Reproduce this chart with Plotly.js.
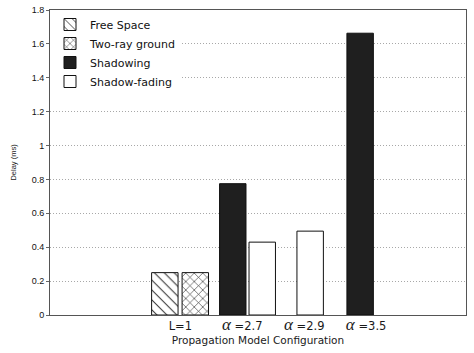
<!DOCTYPE html>
<html>
<head>
<meta charset="utf-8">
<script src="https://cdn.plot.ly/plotly-3.0.1.min.js"></script>
<style>html,body{margin:0;padding:0;background:#fff;}#chart{width:474px;height:353px;}</style>
</head>
<body>
<div id="chart"></div>
<script>
// ---- data ----
var categories = ['L=1', 'α=2.7', 'α=2.9', 'α=3.5'];
var tickLabels = ['L=1', 'α =2.7', 'α =2.9', 'α =3.5'];
var seriesNames = ['Free Space', 'Two-ray ground', 'Shadowing', 'Shadow-fading'];
var freeSpace    = [0.25, null, null, null];
var twoRayGround = [0.25, null, null, null];
var shadowing    = [null, 0.775, null, 1.663];
var shadowFading = [null, 0.43, 0.495, null];

// ---- presentation ----
var BAR_W = 0.427;
var offsets = {
  fs: [-0.464, 0, 0, 0],
  tr: [0.028, 0, 0, 0],
  sh: [0, -0.367, 0, -0.310],
  sf: [0, 0.109, -0.117, 0]
};
var outline = {color: '#111', width: 1};

function fmtTick(t) {
  return t.replace('α', '<span style="font-family:\'Liberation Serif\';font-size:17px"><i>α</i></span>');
}

var traces = [
  {type: 'bar', name: seriesNames[0], x: categories, y: freeSpace, width: BAR_W, offset: offsets.fs,
   marker: {color: 'white', line: outline, pattern: {shape: '\\', fgcolor: '#333', bgcolor: 'white', size: 7, solidity: 0.15}}},
  {type: 'bar', name: seriesNames[1], x: categories, y: twoRayGround, width: BAR_W, offset: offsets.tr,
   marker: {color: 'white', line: outline, pattern: {shape: 'x', fgcolor: '#333', bgcolor: 'white', size: 6, solidity: 0.2}}},
  {type: 'bar', name: seriesNames[2], x: categories, y: shadowing, width: BAR_W, offset: offsets.sh,
   marker: {color: '#1f1f1f', line: outline}},
  {type: 'bar', name: seriesNames[3], x: categories, y: shadowFading, width: BAR_W, offset: offsets.sf,
   marker: {color: 'white', line: outline}}
];

var layout = {
  width: 474, height: 353,
  margin: {l: 50, r: 8, t: 10, b: 38},
  paper_bgcolor: 'white', plot_bgcolor: 'white',
  barmode: 'overlay',
  showlegend: true,
  font: {family: 'DejaVu Sans', color: '#222'},
  legend: {x: 0, y: 1, xanchor: 'left', yanchor: 'top', bgcolor: 'white', borderwidth: 0,
           font: {family: 'DejaVu Sans', size: 11, color: '#111'}, traceorder: 'normal'},
  xaxis: {
    type: 'category', categoryorder: 'array', categoryarray: categories,
    range: [-2.105, 4.613],
    tickmode: 'array', tickvals: categories, ticktext: tickLabels.map(fmtTick),
    tickfont: {family: 'DejaVu Sans', size: 11.5, color: '#1a1a1a'},
    ticks: '', showgrid: false, zeroline: false,
    showline: true, mirror: true, linecolor: '#555', linewidth: 1,
    title: {text: 'Propagation Model Configuration', font: {family: 'DejaVu Sans', size: 10.5, color: '#1a1a1a'}, standoff: 3}
  },
  yaxis: {
    range: [0, 1.8], dtick: 0.2, tick0: 0,
    tickfont: {family: 'Liberation Sans', size: 9, color: '#111'},
    ticks: 'outside', ticklen: 3, tickcolor: '#666',
    showgrid: true, gridcolor: '#a8a8a8', griddash: '1px,2px', gridwidth: 1,
    zeroline: false,
    showline: true, mirror: true, linecolor: '#555', linewidth: 1,
    title: {text: 'Delay (ms)', font: {family: 'Liberation Sans', size: 7.5, color: '#222'}, standoff: 14}
  }
};

Plotly.newPlot('chart', traces, layout, {displayModeBar: false, staticPlot: true});
</script>
</body>
</html>
